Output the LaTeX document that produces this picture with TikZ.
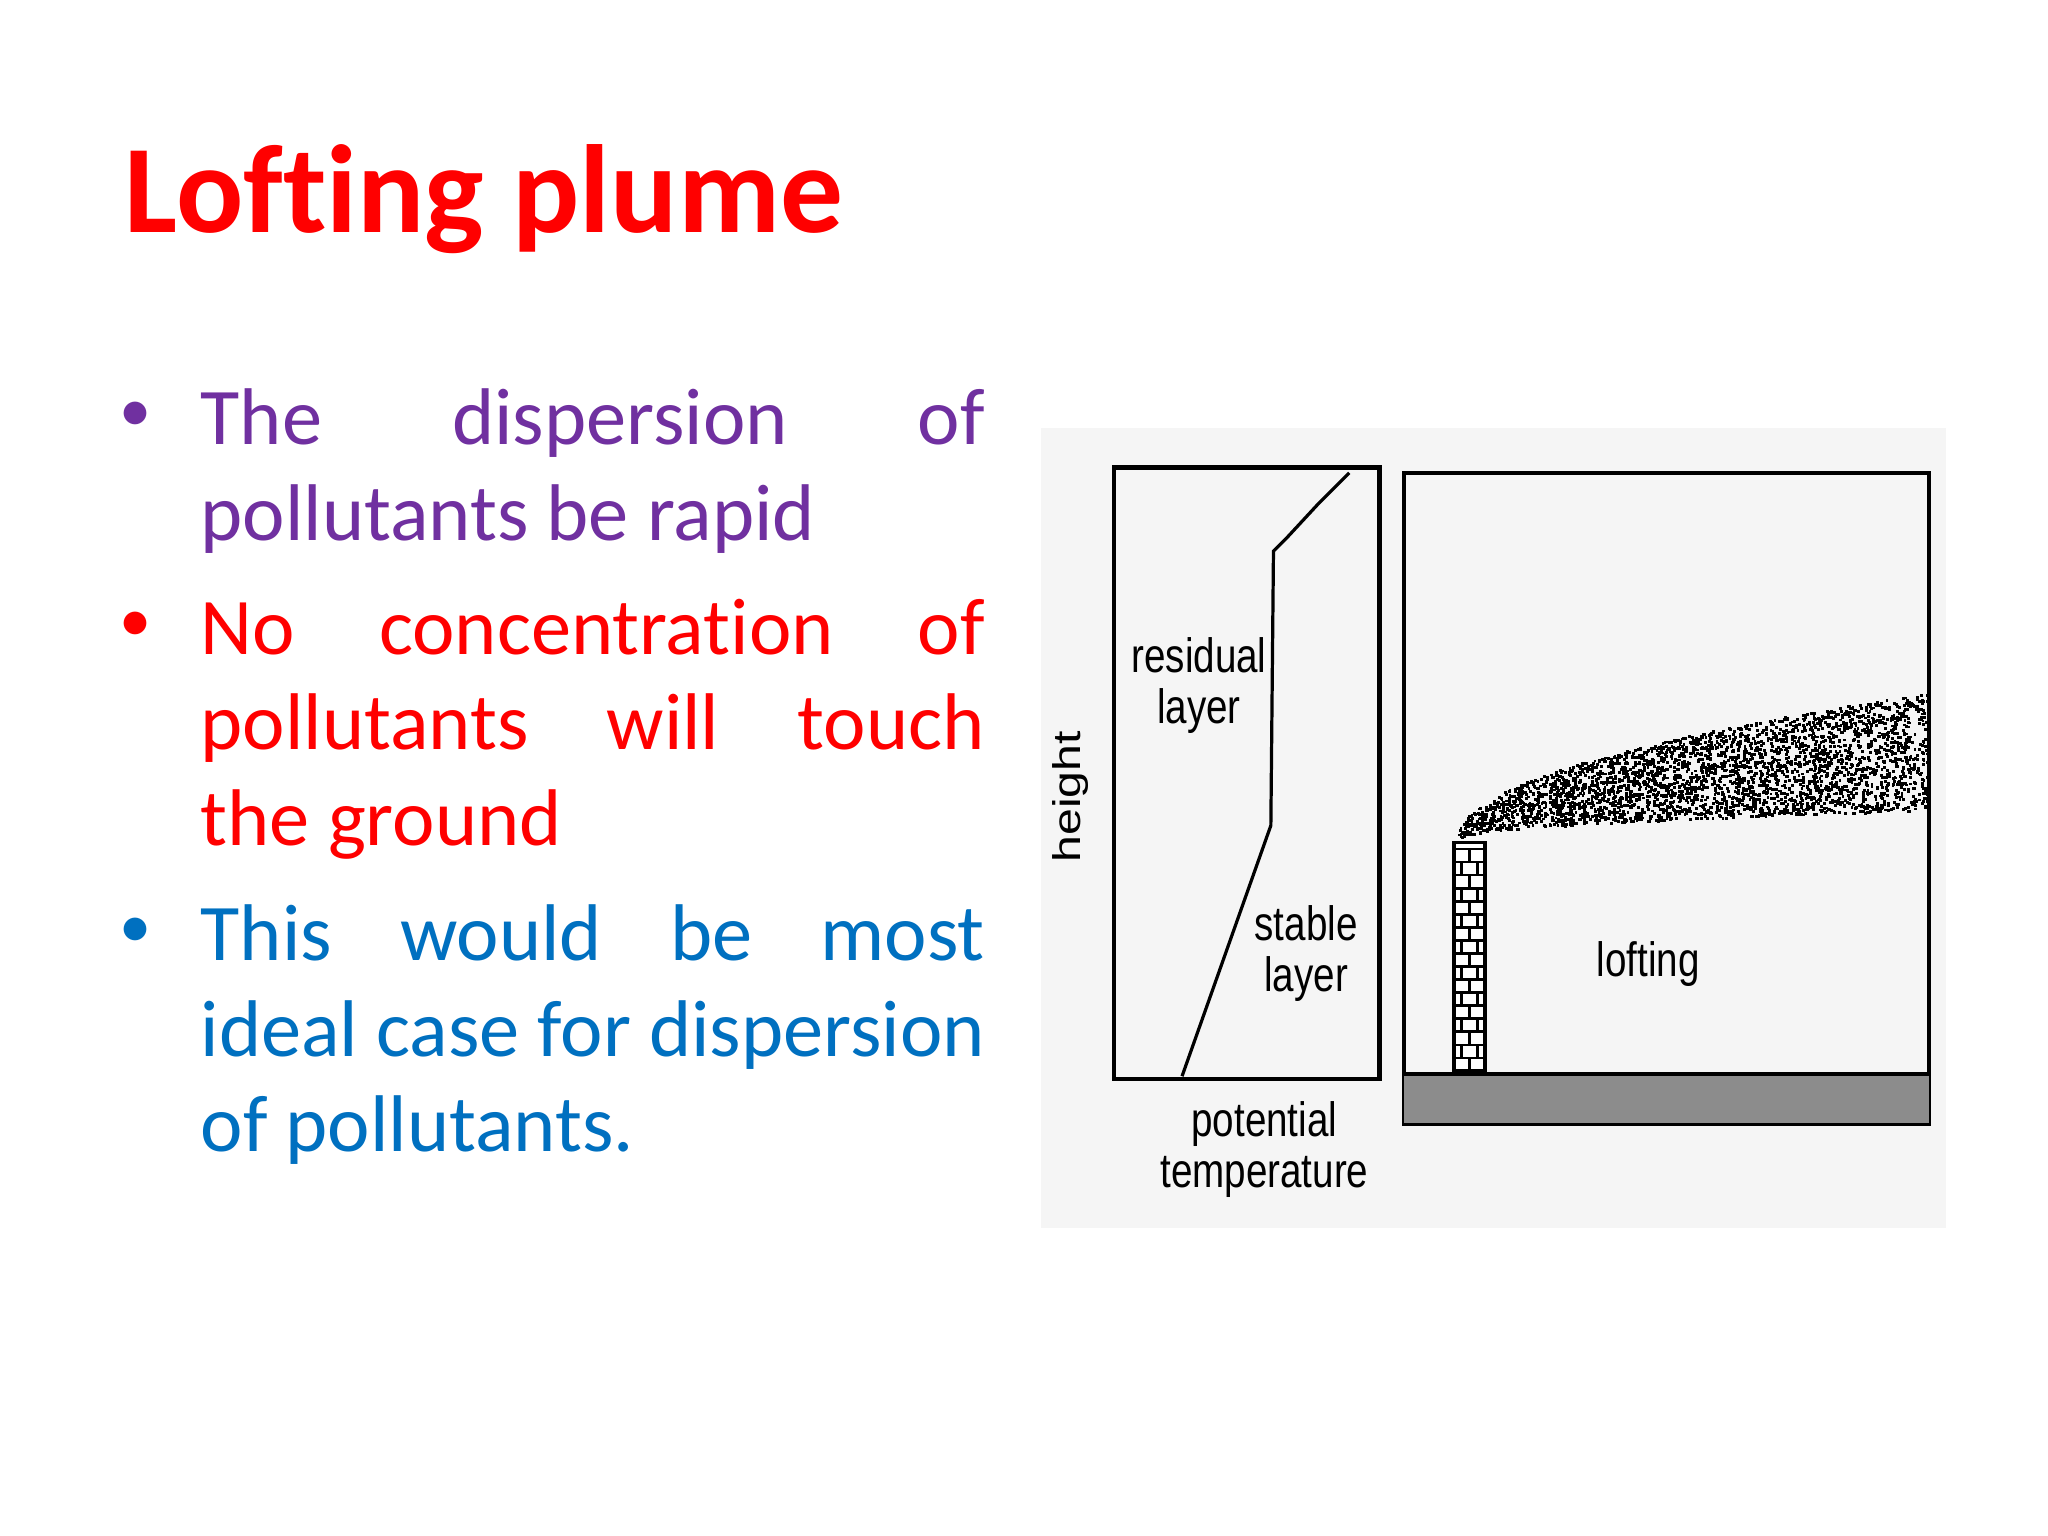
\documentclass[tikz,border=0pt]{standalone}
\usepackage{fontspec}
\setmainfont[Ligatures={NoCommon}]{Carlito}
\newfontfamily\labfont{Liberation Sans}
\begin{document}
\begin{tikzpicture}[x=0.01cm,y=-0.01cm,
  lab/.style={font=\labfont\fontsize{10.5}{11}\selectfont, align=center, xscale=0.8, inner sep=0pt},
  dot/.style={font=\fontsize{14}{16}\selectfont, inner sep=0pt},
  bul/.style={anchor=north west, text width=6cm, align=justify, inner sep=0pt, font=\fontsize{17.5}{20.8}\selectfont}]
\useasboundingbox (0,0) rectangle (1568,1176);
\fill[white] (0,0) rectangle (1568,1176);
\node[anchor=base west, inner sep=0pt, text=red, font=\bfseries\fontsize{27.3}{32}\selectfont] (title) at (95,178) {Lofting plume};
% bullets
\definecolor{pur}{RGB}{112,48,160}
\definecolor{blu}{RGB}{0,112,192}
\node[bul, text=pur] (b1) at (153,297) {The dispersion of\linebreak pollutants be rapid};
\node[dot, text=pur] (d1) at (104,319) {\textbullet};
\node[bul, text=red] (b2) at (153,458) {No concentration of\linebreak pollutants will touch\linebreak the ground};
\node[dot, text=red] (d2) at (104,480) {\textbullet};
\node[bul, text=blu] (b3) at (153,692) {This would be most\linebreak ideal case for dispersion\linebreak of pollutants.};
\node[dot, text=blu] (d3) at (104,714) {\textbullet};
% diagram background
\fill[black!4] (797,328) rectangle (1490,940);
% left box
\draw[line width=1pt] (853,358) rectangle (1056,826);
\draw[line width=0.7pt] (905,824) -- (973,632) -- (975,422) -- (985,412) -- (1010,385) -- (1033,362);
\node[lab] (res) at (918,525) {residual\\layer};
\node[lab] (stab) at (1000,730) {stable\\layer};
\node[lab, rotate=90] (h) at (820,610) {height};
\node[lab] (pt) at (968,880) {potential\\temperature};
% right box
\draw[line width=1pt] (1075,362) rectangle (1477,860);
\fill[black!45] (1075,822) rectangle (1477,860);
\draw[line width=0.9pt] (1075,822) -- (1477,822);
% chimney
\fill[white] (1113,645) rectangle (1137,820);
\draw[line width=0.8pt] (1113,645) rectangle (1137,820);
\foreach \k in {0,...,16}{
  \pgfmathsetmacro\yy{650+10*\k}
  \draw[line width=0.6pt] (1113,\yy) -- (1137,\yy);
  \pgfmathtruncatemacro\parity{mod(\k,2)}
  \ifnum\parity=0
    \draw[line width=0.6pt] (1125,\yy) -- (1125,\yy+10);
  \else
    \draw[line width=0.6pt] (1119,\yy) -- (1119,\yy+10);
    \draw[line width=0.6pt] (1131,\yy) -- (1131,\yy+10);
  \fi
}
\node[lab] (loft) at (1262,738) {lofting};
% plume
\pgfmathsetseed{7}
\foreach \i in {1,...,3400}{
  \pgfmathsetmacro\u{rnd^0.8}
  \pgfmathsetmacro\xx{1116+359*\u}
  \pgfmathsetmacro\tt{640-110*sqrt(\u)}
  \pgfmathsetmacro\bb{642-22*sqrt(\u)}
  \pgfmathsetmacro\yy{\tt+rnd*(\bb-\tt)}
  \fill[black] (\xx,\yy) rectangle ++(2.2,2.2);
}
\end{tikzpicture}
\end{document}
